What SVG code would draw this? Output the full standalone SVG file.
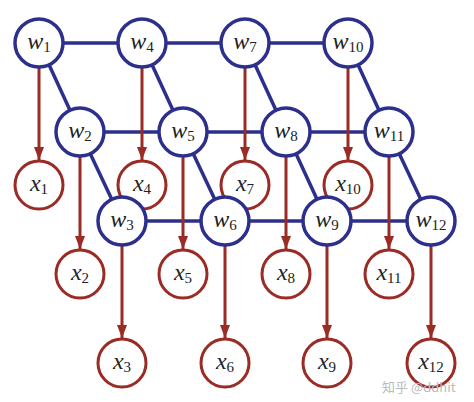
<svg xmlns="http://www.w3.org/2000/svg" width="474" height="402" viewBox="0 0 474 402">
<style>
.bl{stroke:#2c2f8c;stroke-width:3.5;fill:none}
.rl{stroke:#9a2b25;stroke-width:3;fill:none}
.wn{stroke:#2c2f8c;stroke-width:3.5;fill:#fff}
.xn{stroke:#9a2b25;stroke-width:3;fill:#fff}
.lb{font-family:"Liberation Serif","DejaVu Serif",serif;font-size:24px;fill:#222;text-anchor:middle}
.lb .v{font-style:italic}
.lb .s{font-size:15px}
.wm{font-family:"Noto Sans CJK SC","Noto Sans",sans-serif;font-size:13px;fill:#bbb}
</style>
<defs>
<marker id="ah" viewBox="0 0 13 10" refX="13" refY="5" markerWidth="13" markerHeight="10" markerUnits="userSpaceOnUse" orient="auto">
<path d="M0,0 L13,5 L0,10 Z" fill="#9a2b25"/>
</marker>
</defs>
<rect width="474" height="402" fill="#fff"/>
<g id="connectors">
<g class="bl">
<line x1="39" y1="43" x2="348" y2="43"/>
<line x1="80" y1="132" x2="389" y2="132"/>
<line x1="122" y1="221" x2="431" y2="221"/>
<line x1="39" y1="43" x2="80" y2="132"/>
<line x1="80" y1="132" x2="122" y2="221"/>
<line x1="142" y1="43" x2="183" y2="132"/>
<line x1="183" y1="132" x2="225" y2="221"/>
<line x1="245" y1="43" x2="286" y2="132"/>
<line x1="286" y1="132" x2="327" y2="221"/>
<line x1="348" y1="43" x2="389" y2="132"/>
<line x1="389" y1="132" x2="431" y2="221"/>
</g>
<g class="rl" marker-end="url(#ah)">
<line x1="39" y1="67" x2="39" y2="160"/>
<line x1="142" y1="67" x2="142" y2="160"/>
<line x1="245" y1="67" x2="245" y2="160"/>
<line x1="348" y1="67" x2="348" y2="160"/>
<line x1="80" y1="156" x2="80" y2="249"/>
<line x1="183" y1="156" x2="183" y2="249"/>
<line x1="286" y1="156" x2="286" y2="249"/>
<line x1="389" y1="156" x2="389" y2="249"/>
<line x1="122" y1="245" x2="122" y2="338"/>
<line x1="225" y1="245" x2="225" y2="338"/>
<line x1="327" y1="245" x2="327" y2="338"/>
<line x1="431" y1="245" x2="431" y2="338"/>
</g>
</g>
<g id="w1"><circle class="wn" cx="39" cy="43" r="24"/><text class="lb" x="39" y="49"><tspan class="v">w</tspan><tspan class="s" dy="3">1</tspan></text></g>
<g id="w4"><circle class="wn" cx="142" cy="43" r="24"/><text class="lb" x="142" y="49"><tspan class="v">w</tspan><tspan class="s" dy="3">4</tspan></text></g>
<g id="w7"><circle class="wn" cx="245" cy="43" r="24"/><text class="lb" x="245" y="49"><tspan class="v">w</tspan><tspan class="s" dy="3">7</tspan></text></g>
<g id="w10"><circle class="wn" cx="348" cy="43" r="24"/><text class="lb" x="348" y="49"><tspan class="v">w</tspan><tspan class="s" dy="3">10</tspan></text></g>
<g id="w2"><circle class="wn" cx="80" cy="132" r="24"/><text class="lb" x="80" y="138"><tspan class="v">w</tspan><tspan class="s" dy="3">2</tspan></text></g>
<g id="w5"><circle class="wn" cx="183" cy="132" r="24"/><text class="lb" x="183" y="138"><tspan class="v">w</tspan><tspan class="s" dy="3">5</tspan></text></g>
<g id="w8"><circle class="wn" cx="286" cy="132" r="24"/><text class="lb" x="286" y="138"><tspan class="v">w</tspan><tspan class="s" dy="3">8</tspan></text></g>
<g id="w11"><circle class="wn" cx="389" cy="132" r="24"/><text class="lb" x="389" y="138"><tspan class="v">w</tspan><tspan class="s" dy="3">11</tspan></text></g>
<g id="x1"><circle class="xn" cx="39" cy="185" r="24"/><text class="lb" x="39" y="191"><tspan class="v">x</tspan><tspan class="s" dy="3">1</tspan></text></g>
<g id="x4"><circle class="xn" cx="142" cy="185" r="24"/><text class="lb" x="142" y="191"><tspan class="v">x</tspan><tspan class="s" dy="3">4</tspan></text></g>
<g id="x7"><circle class="xn" cx="245" cy="185" r="24"/><text class="lb" x="245" y="191"><tspan class="v">x</tspan><tspan class="s" dy="3">7</tspan></text></g>
<g id="x10"><circle class="xn" cx="348" cy="185" r="24"/><text class="lb" x="348" y="191"><tspan class="v">x</tspan><tspan class="s" dy="3">10</tspan></text></g>
<g id="w3"><circle class="wn" cx="122" cy="221" r="24"/><text class="lb" x="122" y="227"><tspan class="v">w</tspan><tspan class="s" dy="3">3</tspan></text></g>
<g id="w6"><circle class="wn" cx="225" cy="221" r="24"/><text class="lb" x="225" y="227"><tspan class="v">w</tspan><tspan class="s" dy="3">6</tspan></text></g>
<g id="w9"><circle class="wn" cx="327" cy="221" r="24"/><text class="lb" x="327" y="227"><tspan class="v">w</tspan><tspan class="s" dy="3">9</tspan></text></g>
<g id="w12"><circle class="wn" cx="431" cy="221" r="24"/><text class="lb" x="431" y="227"><tspan class="v">w</tspan><tspan class="s" dy="3">12</tspan></text></g>
<g id="x2"><circle class="xn" cx="80" cy="274" r="24"/><text class="lb" x="80" y="280"><tspan class="v">x</tspan><tspan class="s" dy="3">2</tspan></text></g>
<g id="x5"><circle class="xn" cx="183" cy="274" r="24"/><text class="lb" x="183" y="280"><tspan class="v">x</tspan><tspan class="s" dy="3">5</tspan></text></g>
<g id="x8"><circle class="xn" cx="286" cy="274" r="24"/><text class="lb" x="286" y="280"><tspan class="v">x</tspan><tspan class="s" dy="3">8</tspan></text></g>
<g id="x11"><circle class="xn" cx="389" cy="274" r="24"/><text class="lb" x="389" y="280"><tspan class="v">x</tspan><tspan class="s" dy="3">11</tspan></text></g>
<g id="x3"><circle class="xn" cx="122" cy="363" r="24"/><text class="lb" x="122" y="369"><tspan class="v">x</tspan><tspan class="s" dy="3">3</tspan></text></g>
<g id="x6"><circle class="xn" cx="225" cy="363" r="24"/><text class="lb" x="225" y="369"><tspan class="v">x</tspan><tspan class="s" dy="3">6</tspan></text></g>
<g id="x9"><circle class="xn" cx="327" cy="363" r="24"/><text class="lb" x="327" y="369"><tspan class="v">x</tspan><tspan class="s" dy="3">9</tspan></text></g>
<g id="x12"><circle class="xn" cx="431" cy="363" r="24"/><text class="lb" x="431" y="369"><tspan class="v">x</tspan><tspan class="s" dy="3">12</tspan></text></g>
<text class="wm" x="382" y="392">知乎 @ddhit</text>
</svg>
